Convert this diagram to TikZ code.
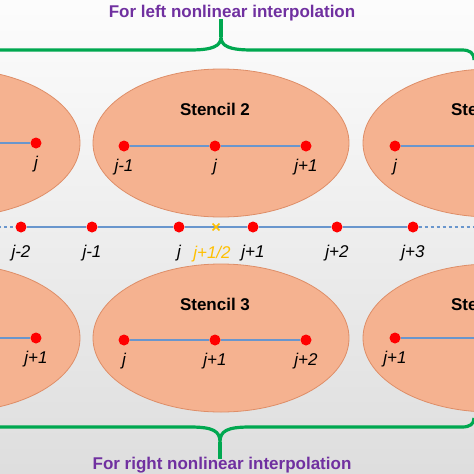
\documentclass[tikz,border=0pt]{standalone}
\usepackage{fontspec}
\setsansfont{Liberation Sans}
\renewcommand{\familydefault}{\sfdefault}
\usetikzlibrary{shapes.geometric,positioning}
\definecolor{salmon}{RGB}{245,178,144}
\definecolor{salmonedge}{RGB}{222,142,104}
\definecolor{gridblue}{RGB}{105,150,205}
\definecolor{ptred}{RGB}{255,0,0}
\definecolor{bracegreen}{RGB}{0,168,80}
\definecolor{titlepurple}{RGB}{112,48,160}
\definecolor{halfgold}{RGB}{255,192,0}
\tikzset{stencil/.style={ellipse,fill=salmon,draw=salmonedge,line width=0.8pt,minimum width=256pt,minimum height=148pt,inner sep=0pt}}
\tikzset{pt/.style={circle,fill=ptred,inner sep=0pt,minimum size=11pt}}
\tikzset{idx/.style={font=\fontsize{17}{20}\selectfont\itshape,label distance=4pt}}
\tikzset{idxmid/.style={idx,label distance=9pt}}
\tikzset{stitle/.style={font=\fontsize{17}{20}\selectfont\bfseries}}
\tikzset{caption/.style={text=titlepurple,font=\fontsize{17}{20}\selectfont\bfseries}}
\tikzset{grid/.style={draw=gridblue,line width=2.8pt}}
\tikzset{brace/.style={draw=bracegreen,line width=3.2pt}}

\begin{document}
\begin{tikzpicture}[x=1pt,y=-1pt]
\useasboundingbox (0,0) rectangle (474,474);
\clip (0,0) rectangle (474,474);
\shade[top color=black!1,bottom color=black!13] (0,0) rectangle (474,474);
\node (s1) at (-48,143) [stencil] {};
\node (s2) at (221,143) [stencil] {};
\node (s3) at (491,143) [stencil] {};
\node (s4) at (-48,338) [stencil] {};
\node (s5) at (221,338) [stencil] {};
\node (s6) at (491,338) [stencil] {};
\node (t2) at (215,109) [stitle] {Stencil 2};
\node (t3) at (486,109) [stitle] {Stencil 3};
\node (t5) at (215,304) [stitle] {Stencil 3};
\node (t6) at (486,304) [stitle] {Stencil 4};
\coordinate (a0) at (-5,143);
\node (a1) at (36,143) [pt,label={[idx]below:j}] {};
\node (b1) at (124,146) [pt,label={[idx]below:j-1}] {};
\node (b2) at (215,146) [pt,label={[idx]below:j}] {};
\node (b3) at (306,146) [pt,label={[idx]below:j+1}] {};
\node (c1) at (395,146) [pt,label={[idx]below:j}] {};
\coordinate (c0) at (480,146);
\coordinate (d0) at (-5,338);
\node (d1) at (36,338) [pt,label={[idx]below:j+1}] {};
\node (e1) at (124,340) [pt,label={[idx]below:j}] {};
\node (e2) at (215,340) [pt,label={[idx]below:j+1}] {};
\node (e3) at (306,340) [pt,label={[idx]below:j+2}] {};
\node (f1) at (395,338) [pt,label={[idx]below:j+1}] {};
\coordinate (f0) at (480,338);
\draw[grid] (a0) -- (a1);
\draw[grid] (b1) -- (b2) -- (b3);
\draw[grid] (c1) -- (c0);
\draw[grid] (d0) -- (d1);
\draw[grid] (e1) -- (e2) -- (e3);
\draw[grid] (f1) -- (f0);
\coordinate (m0) at (-2,227);
\node (m1) at (21,227) [pt,label={[idxmid]below:j-2}] {};
\node (m2) at (92,227) [pt,label={[idxmid]below:j-1}] {};
\node (m3) at (179,227) [pt,label={[idxmid]below:j}] {};
\node (h) at (216,227) [inner sep=3.2pt,label={[idxmid,text=halfgold,xshift=-4pt,label distance=12pt]below:j+1/2}] {};
\node (m4) at (253,227) [pt,label={[idxmid]below:j+1}] {};
\node (m5) at (337,227) [pt,label={[idxmid]below:j+2}] {};
\node (m6) at (413,227) [pt,label={[idxmid]below:j+3}] {};
\coordinate (m7) at (478,227);
\draw[grid,dash pattern=on 3pt off 3pt] (m0) -- (m1);
\draw[grid,dash pattern=on 3pt off 3pt] (m6) -- (m7);
\draw[grid] (m1) -- (m2) -- (m3) -- (m4) -- (m5) -- (m6);
\draw[halfgold,line width=1.6pt] (h.north west) -- (h.south east) (h.north east) -- (h.south west);
\draw[brace] (-10,50) -- (190,50) .. controls (213,50) and (221,46) .. (221,37)
  .. controls (221,46) and (229,50) .. (252,50) -- (462,50) .. controls (470,50) and (474,53) .. (474,60);
\draw[brace] (221,37) -- (221,19);
\draw[brace] (-10,427) -- (190,427) .. controls (213,427) and (220,431) .. (220,442)
  .. controls (220,431) and (227,427) .. (250,427) -- (462,427) .. controls (470,427) and (474,424) .. (474,418);
\draw[brace] (220,442) -- (220,459);
\node (ttop) at (232,13) [caption] {For left nonlinear interpolation};
\node (tbot) at (222,465) [caption] {For right nonlinear interpolation};
\end{tikzpicture}
\end{document}
